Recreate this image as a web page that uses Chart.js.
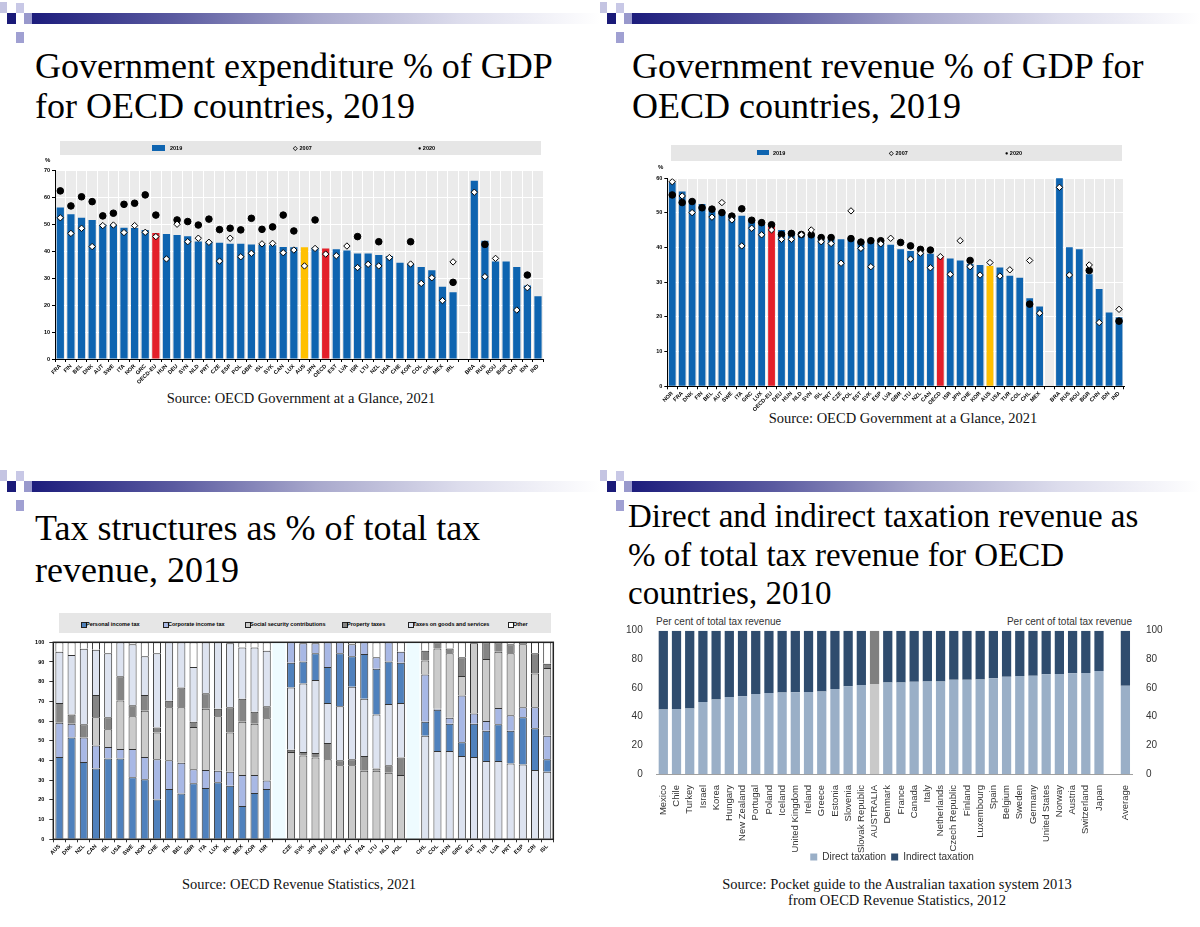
<!DOCTYPE html>
<html><head><meta charset="utf-8">
<script src="https://cdn.jsdelivr.net/npm/chart.js@4.4.1/dist/chart.umd.min.js"></script>
<style>
html,body{margin:0;padding:0;background:#fff;}
body{width:1200px;height:927px;position:relative;overflow:hidden;}
.deco{position:absolute;width:600px;height:46px;}
.deco div{position:absolute;}
.title{position:absolute;font-family:'Liberation Serif','Times New Roman',serif;color:#000;white-space:nowrap;}
.src{position:absolute;font-family:'Liberation Serif','Times New Roman',serif;font-size:14.5px;line-height:16px;color:#111;white-space:nowrap;transform:translateX(-50%);text-align:center;}
.lg{position:absolute;background:#e6e6e6;}
.lg span{position:absolute;font:bold 5.5px 'Liberation Sans',Arial,sans-serif;color:#000;white-space:nowrap;line-height:6px;}
.lg i{position:absolute;display:block;}
.note{position:absolute;font:10px 'Liberation Sans',Arial,sans-serif;color:#333;white-space:nowrap;line-height:12px;}
canvas{position:absolute;}
</style></head>
<body>
<div class="title" style="left:35px;top:46px;font-size:36px;line-height:40px;">Government expenditure % of GDP<br>for OECD countries, 2019</div>
<div class="title" style="left:632px;top:46px;font-size:36px;line-height:40px;">Government revenue % of GDP for<br>OECD countries, 2019</div>
<div class="title" style="left:35px;top:507px;font-size:36px;line-height:42px;">Tax structures as % of total tax<br>revenue, 2019</div>
<div class="title" style="left:628px;top:497px;font-size:33px;line-height:38.5px;">Direct and indirect taxation revenue as<br>% of total tax revenue for OECD<br>countries, 2010</div>
<div class="src" style="left:301px;top:390px;">Source: OECD Government at a Glance, 2021</div>
<div class="src" style="left:903px;top:410px;">Source: OECD Government at a Glance, 2021</div>
<div class="src" style="left:299px;top:876px;">Source: OECD Revenue Statistics, 2021</div>
<div class="src" style="left:897px;top:876px;">Source: Pocket guide to the Australian taxation system 2013<br>from OECD Revenue Statistics, 2012</div>
<div class="note" style="left:656px;top:616px;">Per cent of total tax revenue</div>
<div class="note" style="left:1132px;top:616px;transform:translateX(-100%);">Per cent of total tax revenue</div>
<script>
// ---------- DATA ----------
// Chart 1: Government expenditure % of GDP
const expCats = ['FRA','FIN','BEL','DNK','AUT','SWE','ITA','NOR','GRC','OECD-EU','HUN','DEU','SVN','NLD','PRT','CZE','ESP','POL','GBR','ISL','SVK','CAN','LUX','AUS','JPN','OECD','EST','LVA','ISR','LTU','NZL','USA','CHE','KOR','COL','CHL','MEX','IRL','','BRA','RUS','ROU','BGR','CHN','IDN','IND'];
const exp2019 = [56.3,53.8,52.5,51.7,50.0,49.9,48.8,48.7,48.0,46.8, 46.5,46.1,45.6,43.7,43.6,43.2,42.8,42.8,42.6,42.5, 42.3,41.6,41.5,41.5,41.4,41.1,40.8,40.3,39.2,39.2, 38.7,38.3,35.8,35.3,34.2,33.0,26.9,24.8, null, 66.3,44.0,36.2,36.2,34.2,27.3,23.3];
const exp2007 = [52.5,46.7,48.6,41.8,49.6,49.8,47.0,49.6,47.1,45.5, 37.2,50.1,43.6,44.9,43.4,36.4,44.9,38.0,39.3,42.8, 43.0,39.5,40.5,34.6,41.1,39.0,38.4,42.0,34.0,35.2, 34.6,37.7,null,35.3,28.1,30.2,21.7,36.1, null, 62.0,30.6,37.4,null,18.2,26.5,null];
const exp2020 = [62.5,56.9,60.3,58.5,53.2,54.2,57.5,57.9,61.0,53.5, null,51.7,51.1,49.8,52.0,48.1,48.6,48.0,52.3,48.2, 49.1,53.5,47.6,null,51.7,null,null,null,45.5,null, 43.6,null,null,43.6,null,null,null,28.5, null, null,42.6,null,null,null,31.2,null];
const expTicksMax = 70;

// Chart 2: Government revenue % of GDP
const revCats = ['NOR','FRA','DNK','FIN','BEL','AUT','SWE','ITA','GRC','LUX','OECD-EU','DEU','HUN','NLD','SVN','ISL','PRT','CZE','POL','EST','SVK','ESP','LVA','GBR','LTU','NZL','CAN','OECD','ISR','JPN','CHE','KOR','AUS','USA','TUR','COL','CHL','MEX','','BRA','RUS','ROU','BGR','CHN','IDN','IND'];
const rev2019 = [58.8,56.2,53.8,52.6,50.6,50.4,49.4,49.2,47.5,46.5, 46.3,45.1,44.3,43.8,43.7,42.4,42.4,42.4,42.4,41.7, 41.7,41.5,40.8,39.5,39.0,38.4,38.2,37.6,36.9,36.3, 35.3,35.0,34.7,34.3,31.9,31.3,25.4,23.0, null, 60.2,40.1,39.5,32.3,28.1,21.3,19.9];
const rev2007 = [59.0,54.9,50.1,null,48.8,53.0,48.0,40.5,45.6,43.7, 45.1,42.4,42.4,43.7,45.1,41.7,41.2,35.5,50.6,39.8, 34.5,41.1,42.7,null,36.7,38.4,34.2,37.4,32.3,42.0, 34.5,32.1,35.7,31.8,33.6,null,36.3,21.1, null, 57.4,32.1,null,35.0,18.4,null,22.2];
const rev2020 = [55.2,53.0,53.3,51.5,51.1,50.1,49.1,51.2,47.9,47.2, 46.6,43.8,44.1,43.8,43.7,42.9,42.9,null,42.6,41.6, 42.0,42.0,null,41.5,40.5,39.5,39.3,null,null,null, 36.3,null,null,null,null,null,23.7,null, null, null,null,null,33.4,null,null,18.8];
const revTicksMax = 60;

// Chart 3: Tax structures as % of total tax revenue (three groups, gaps as '')
const taxCats = ['AUS','DNK','NZL','CAN','ISL','USA','SWE','NOR','CHE','FIN','BEL','GBR','ITA','LUX','IRL','MEX','KOR','ISR','',
                 'CZE','SVK','JPN','DEU','SVN','AUT','FRA','LTU','NLD','POL','',
                 'CHL','COL','HUN','GRC','EST','TUR','LVA','PRT','ESP','CRI','ISL'];
const taxPersonal  = [41.8,51.7,39.3,36.0,41.0,41.0,31.5,30.5,20.2,25.5,23.2,28.5,26.0,28.9,27.2,16.9,23.5,25.5,null, 12.5,11.1,13.7,18.2,27.0,15.5,22.7,23.3,21.5,20.4,null, 7.1,21.0,13.9,7.0,16.9,15.3,18.6,16.6,24.0,21.2,6.3];
const taxCorporate = [17.4,7.0,12.4,11.6,5.8,4.9,14.4,11.3,20.4,14.6,15.6,7.0,9.2,5.9,7.1,15.8,9.2,4.4,null, 10.4,9.3,5.0,12.6,5.5,6.1,6.0,5.8,9.8,5.6,null, 23.9,0.5,3.0,23.7,5.1,4.9,8.3,7.9,5.0,10.6,12.0];
const taxSocial    = [0,0,0,14.4,9.1,24.6,16.6,23.5,13.6,26.9,28.2,21.5,31.1,27.7,19.9,27.0,26.0,31.5,null, 44.3,42.6,41.5,40.6,37.6,37.6,34.8,34.8,33.8,32.7,null, 7.1,30.5,32.8,9.9,35.7,31.5,28.5,31.5,32.0,17.1,34.3];
const taxProperty  = [10.0,4.6,6.7,11.3,6.1,12.3,5.5,8.0,2.5,3.3,10.0,2.7,7.8,3.8,12.8,11.6,6.0,6.1,null, 1.1,1.7,2.3,8.3,2.5,3.0,7.5,1.2,3.8,8.8,null, 5.0,3.2,2.3,9.5,0.5,8.5,4.8,4.5,1.0,10.4,2.2];
const taxGoods     = [26.0,30.2,38.3,22.9,32.5,17.2,31.0,19.6,37.8,29.7,23.0,27.7,25.9,33.7,32.5,26.0,32.6,28.2,null, 31.7,34.8,37.0,20.3,27.4,36.8,29.0,27.3,31.1,27.7,null, 52.6,44.8,44.8,42.3,41.8,39.8,39.8,38.5,38.0,35.2,34.3];
const taxOther     = [4.8,6.5,3.3,3.8,5.5,0,1.0,7.1,5.5,0,0,12.6,0,0,0.5,2.7,2.7,4.3,null, 0,0.5,0.5,0,0,1.0,0,7.6,0,4.8,null, 4.3,0,3.2,7.6,0,0,0,1.0,0,5.5,10.9];

// Chart 4: Direct and indirect taxation, % of total tax revenue, 2010
const dirCountries = ['Mexico','Chile','Turkey','Israel','Korea','Hungary','New Zealand','Portugal','Poland','Iceland','United Kingdom','Ireland','Greece','Estonia','Slovenia','Slovak Republic','AUSTRALIA','Denmark','France','Canada','Italy','Netherlands','Czech Republic','Finland','Luxembourg','Spain','Belgium','Sweden','Germany','United States','Norway','Austria','Switzerland','Japan','','Average'];
const directTax   = [45.0,45.4,45.7,50.2,52.0,53.7,54.3,55.9,56.6,56.8,57.1,57.2,57.6,59.4,61.2,62.1,62.8,63.9,63.9,64.4,64.5,64.6,65.8,65.8,65.9,66.9,67.8,68.4,68.5,69.6,69.7,70.3,70.4,71.9,null,61.6];
const indirectTax = [55.0,54.6,54.3,49.8,48.0,46.3,45.7,44.1,43.4,43.2,42.9,42.8,42.4,40.6,38.8,37.9,37.2,36.1,36.1,35.6,35.5,35.4,34.2,34.2,34.1,33.1,32.2,31.6,31.5,30.4,30.3,29.7,29.6,28.1,null,38.4];

// ---------- STYLE ----------
const SANS = "'Liberation Sans', Arial, sans-serif";
const BLUE = '#0e64b0', RED = '#e3202a', YELLOW = '#ffc000';
const TAXCOL = {P:'#4f81bd', C:'#a8b8e5', S:'#cbcbcb', Pr:'#858585', G:'#dde3f0', O:'#ffffff'};

Chart.register({id:'plotBg',beforeDraw(c,a,o){if(!o||!o.color)return;const ctx=c.ctx,ca=c.chartArea;ctx.save();ctx.fillStyle=o.color;ctx.fillRect(ca.left,ca.top,ca.right-ca.left,ca.bottom-ca.top);ctx.restore();}});
Chart.register({id:'frame',afterDraw(c,a,o){if(!o||!o.color)return;const ctx=c.ctx,ca=c.chartArea;ctx.save();ctx.strokeStyle=o.color;ctx.lineWidth=o.width||1;ctx.strokeRect(ca.left,ca.top,ca.right-ca.left,ca.bottom-ca.top);ctx.restore();}});
// lets long rotated category labels run past the fixed-height axis box instead of being clipped
const noLabelClip={id:'noLabelClip',beforeDraw(c){Object.values(c.scales).forEach(s=>{s._computeLabelArea=function(){return undefined;};});}};

function deco(x,y){
  const d=document.createElement('div');d.className='deco';d.style.left=x+'px';d.style.top=y+'px';
  d.innerHTML='<div style="left:32px;top:13px;width:568px;height:11px;background:linear-gradient(to right,#1c1c7c 0%,#5a5aa0 25%,#a8a8cc 50%,#dcdcec 75%,#fff 100%)"></div>'+
  '<div style="left:0;top:2px;width:7px;height:11px;background:#c4c4e2"></div>'+
  '<div style="left:7px;top:13px;width:9px;height:11px;background:#1a1a78"></div>'+
  '<div style="left:16px;top:3px;width:8px;height:10px;background:#c8c8e6"></div>'+
  '<div style="left:24px;top:13px;width:8px;height:11px;background:#9898cc"></div>'+
  '<div style="left:16px;top:32px;width:8px;height:11px;background:#a0a0d2"></div>';
  document.body.appendChild(d);
}
deco(0,0);deco(600,0);deco(0,468);deco(600,468);

function mkCanvas(l,t,w,h){const c=document.createElement('canvas');c.width=w;c.height=h;c.style.left=l+'px';c.style.top=t+'px';c.style.width=w+'px';c.style.height=h+'px';document.body.appendChild(c);return c;}

function legendBox(l,t,w,h,items){
  const b=document.createElement('div');b.className='lg';b.style.left=l+'px';b.style.top=t+'px';b.style.width=w+'px';b.style.height=h+'px';
  items.forEach(it=>{
    if(it.sw){const s=document.createElement('i');s.style.left=it.sw[0]+'px';s.style.top=it.sw[1]+'px';s.style.width=it.sw[2]+'px';s.style.height=it.sw[3]+'px';s.style.background=it.color;if(it.border)s.style.border='0.6px solid #222';b.appendChild(s);}
    const t2=document.createElement('span');t2.textContent=it.text;t2.style.left=it.x+'px';t2.style.top=it.y+'px';b.appendChild(t2);
  });
  document.body.appendChild(b);
}

function govChart(cv,cats,v19,v07,v20,ymax,yw,xh,pt,pr){
  const colors=cats.map(c=>c==='OECD'||c==='OECD-EU'?RED:(c==='AUS'?YELLOW:BLUE));
  const tf={family:SANS,size:5.5,weight:'bold'};
  return new Chart(cv,{type:'bar',data:{labels:cats,datasets:[
    {type:'line',label:'2007',data:v07,showLine:false,pointStyle:'rectRot',pointRadius:3.2,pointBackgroundColor:'#fff',pointBorderColor:'#000',pointBorderWidth:1,order:0},
    {type:'line',label:'2020',data:v20,showLine:false,pointStyle:'circle',pointRadius:3.3,pointBackgroundColor:'#000',pointBorderColor:'#000',pointBorderWidth:1,order:1},
    {label:'2019',data:v19,backgroundColor:colors,borderWidth:0,barPercentage:0.68,categoryPercentage:1,order:2}
  ]},options:{responsive:false,animation:false,events:[],layout:{padding:{top:pt,right:pr,left:0,bottom:0}},
    plugins:{legend:{display:false},tooltip:{enabled:false},plotBg:{color:'#ebebeb'}},
    scales:{
      x:{grid:{color:'#fff',lineWidth:1,tickColor:'#000',tickLength:3,offset:true},border:{color:'#000',width:1},
         ticks:{font:tf,color:'#000',minRotation:45,maxRotation:45,autoSkip:false,padding:1},afterFit(s){s.height=xh;}},
      y:{min:0,max:ymax,ticks:{stepSize:10,font:tf,color:'#000',padding:2},grid:{color:'#fff',lineWidth:1,tickColor:'#000',tickLength:3},
         border:{color:'#000',width:1},afterFit(s){s.width=yw;}}
    }}});
}

// Chart 1
govChart(mkCanvas(20,160,540,232),expCats,exp2019,exp2007,exp2020,expTicksMax,35,33,10.7,16.7);
legendBox(60,141,481,13.5,[
  {sw:[91.7,3.5,13,6],color:BLUE,text:'2019',x:110,y:4},
  {text:'\u25C7 2007',x:233,y:4},
  {text:'\u25CF 2020',x:358,y:4}
]);
const pc1=document.createElement('div');pc1.className='note';pc1.style.cssText='left:45px;top:157px;font:bold 6px '+SANS+';color:#000;';pc1.textContent='%';document.body.appendChild(pc1);

// Chart 2
govChart(mkCanvas(630,168,510,264),revCats,rev2019,rev2007,rev2020,revTicksMax,37.3,45.7,10.3,16);
legendBox(671,145,451,15.5,[
  {sw:[86,5,12,5],color:BLUE,text:'2019',x:102,y:5},
  {text:'\u25C7 2007',x:218,y:5},
  {text:'\u25CF 2020',x:334,y:5}
]);
const pc2=document.createElement('div');pc2.className='note';pc2.style.cssText='left:658px;top:164px;font:bold 6px '+SANS+';color:#000;';pc2.textContent='%';document.body.appendChild(pc2);

// Chart 3
(function(){
  const TAX={P:taxPersonal,C:taxCorporate,S:taxSocial,Pr:taxProperty,G:taxGoods,O:taxOther};
  const NAMES={P:'Personal income tax',C:'Corporate income tax',S:'Social security contributions',Pr:'Property taxes',G:'Taxes on goods and services',O:'Other'};
  const groups=[{from:0,to:17,order:['P','C','S','Pr','G','O']},{from:19,to:28,order:['S','Pr','G','P','C','O']},{from:30,to:40,order:['G','P','C','S','Pr','O']}];
  const ds=[];
  groups.forEach(g=>{g.order.forEach(k=>{
    ds.push({label:NAMES[k],data:TAX[k].map((v,i)=>(i>=g.from&&i<=g.to)?v:null),backgroundColor:TAXCOL[k],borderColor:'#333',borderWidth:1,barPercentage:0.66,categoryPercentage:1,stack:'a'});
  });});
  ds.push({label:'gap',data:taxCats.map(c=>c===''?100:null),backgroundColor:'#eefbff',borderWidth:0,barPercentage:1,categoryPercentage:1,stack:'a'});
  const tf={family:SANS,size:5.5,weight:'bold'};
  new Chart(mkCanvas(15,634,550,236),{type:'bar',data:{labels:taxCats,datasets:ds},options:{responsive:false,animation:false,events:[],
    layout:{padding:{top:4.3,right:11.7,left:0,bottom:0}},
    plugins:{legend:{display:false},tooltip:{enabled:false},frame:{color:'#222',width:1.5}},
    scales:{
      x:{stacked:true,grid:{drawOnChartArea:false,tickColor:'#333',tickLength:3,offset:true},border:{display:false},
         ticks:{font:tf,color:'#000',minRotation:45,maxRotation:45,autoSkip:false,padding:1},afterFit(s){s.height=30.7;}},
      y:{stacked:true,min:0,max:100,ticks:{stepSize:10,font:tf,color:'#000',padding:5},grid:{drawOnChartArea:false,tickColor:'#333',tickLength:4},
         border:{display:false},afterFit(s){s.width=38.3;}}
    }}});
  legendBox(59,613,492,20,[
    {sw:[22,9,4,4],color:TAXCOL.P,border:1,text:NAMES.P,x:27,y:8},
    {sw:[104,9,4,4],color:TAXCOL.C,border:1,text:NAMES.C,x:109,y:8},
    {sw:[186,9,4,4],color:TAXCOL.S,border:1,text:NAMES.S,x:191,y:8},
    {sw:[283,9,4,4],color:TAXCOL.Pr,border:1,text:NAMES.Pr,x:288,y:8},
    {sw:[349,9,4,4],color:TAXCOL.G,border:1,text:NAMES.G,x:354,y:8},
    {sw:[449,9,4,4],color:TAXCOL.O,border:1,text:NAMES.O,x:454,y:8}
  ]);
})();

// Chart 4
(function(){
  const tf={family:SANS,size:10};
  const xf={family:SANS,size:9.5};
  new Chart(mkCanvas(612,618,560,254),{type:'bar',data:{labels:dirCountries,datasets:[
    {label:'Direct taxation',data:directTax,backgroundColor:dirCountries.map(c=>c==='AUSTRALIA'?'#c9c9c9':'#9aafc7'),borderWidth:0,barPercentage:0.7,categoryPercentage:1},
    {label:'Indirect taxation',data:indirectTax,backgroundColor:dirCountries.map(c=>c==='AUSTRALIA'?'#808080':'#2f4c6e'),borderWidth:0,barPercentage:0.7,categoryPercentage:1}
  ]},plugins:[noLabelClip],options:{responsive:false,animation:false,events:[],layout:{padding:{top:12.7,right:0,left:0,bottom:0}},
    plugins:{tooltip:{enabled:false},legend:{position:'bottom',labels:{boxWidth:7,boxHeight:7,font:tf,color:'#333',padding:5}}},
    scales:{
      x:{stacked:true,grid:{display:false},border:{color:'#a0a0a0',width:1},ticks:{font:xf,color:'#333',minRotation:90,maxRotation:90,autoSkip:false,padding:3},afterFit(s){s.height=73;}},
      y:{stacked:true,min:0,max:100,ticks:{stepSize:20,font:tf,color:'#333',padding:6},grid:{display:false},border:{display:false},afterFit(s){s.width=44.7;}},
      y2:{position:'right',min:0,max:100,ticks:{stepSize:20,font:tf,color:'#333',padding:6},grid:{display:false},border:{display:false},afterFit(s){s.width=40;}}
    }}});
})();
</script>
</body></html>
